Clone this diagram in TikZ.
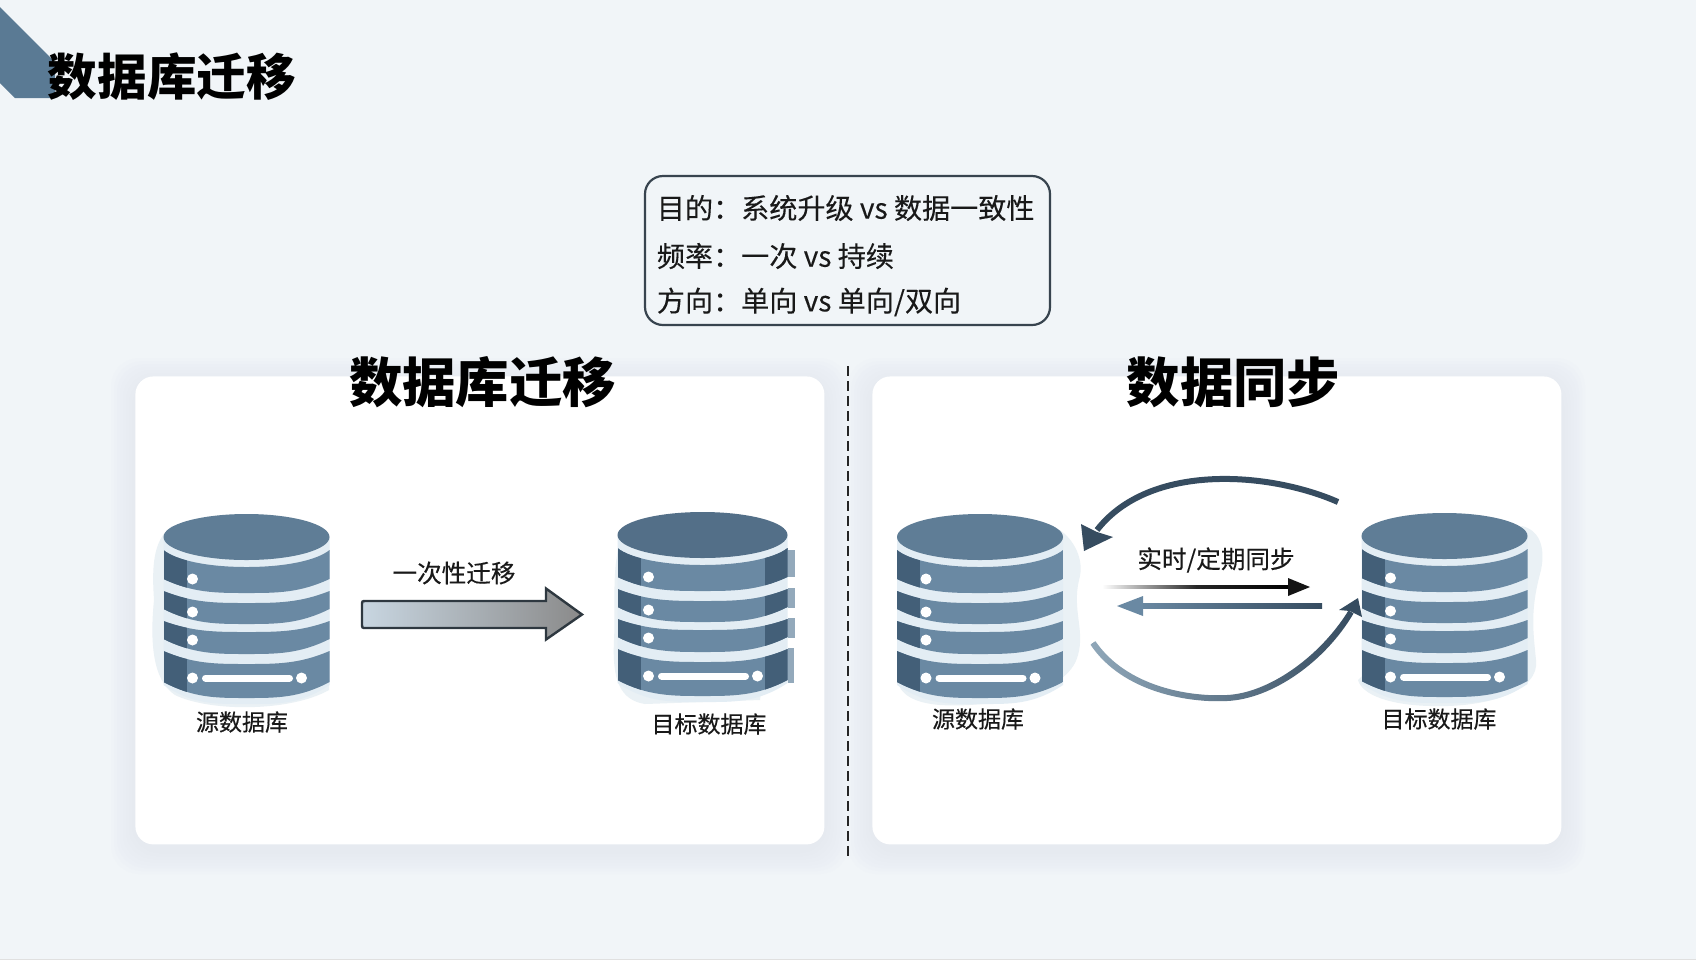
\documentclass[tikz,border=0pt]{standalone}
\usepackage{fontspec}
\setmainfont{Noto Sans CJK SC}
\newfontfamily\cjkmed[FakeBold=0.35]{Noto Sans CJK SC}
\newfontfamily\cjklite[FakeBold=0.15]{Noto Sans CJK SC}
\usetikzlibrary{calc,positioning}
\definecolor{pagebg}{HTML}{F1F5F8}
\definecolor{slate}{HTML}{5A7A94}
\definecolor{inkbox}{HTML}{38444F}
\definecolor{halo}{HTML}{D9DDEE}
\definecolor{dbtop}{HTML}{5F7D96}
\definecolor{dbtopdark}{HTML}{536F88}
\definecolor{dbbody}{HTML}{6A89A3}
\definecolor{dbdark}{HTML}{435F78}
\definecolor{dbrim}{HTML}{E3EDF4}
\definecolor{dbglow}{HTML}{EAF1F5}
\definecolor{dbside}{HTML}{93A9BB}
\definecolor{arcdark}{HTML}{364C60}
\definecolor{arclight}{HTML}{8FA7B9}
\definecolor{migedge}{HTML}{2E3840}
\definecolor{migleft}{HTML}{C8D6E1}
\definecolor{migmid}{HTML}{B2BDC7}
\definecolor{migright}{HTML}{8A8A8A}
\tikzset{
  x=0.5pt,y=-0.5pt,
  titletext/.style={inner sep=0,font=\fontsize{24.8}{24.8}\selectfont\bfseries,text=black},
  headtext/.style={inner sep=0,font=\fontsize{26.7}{26.7}\selectfont\bfseries,text=black},
  boxtext/.style={inner sep=0,anchor=west,font=\cjklite\fontsize{14.05}{14.05}\selectfont,text=black!90},
  labeltext/.style={inner sep=0,font=\cjkmed\fontsize{11.5}{11.5}\selectfont,text=black!90},
  flowtext/.style={inner sep=0,font=\cjkmed\fontsize{12.3}{12.3}\selectfont,text=black!90},
  infobox/.style={draw=inkbox,line width=1.1pt,rounded corners=9pt},
  panel/.style={fill=white,rounded corners=9pt},
  dbdot/.style={fill=white},
  divider/.style={draw=black!85,line width=0.9pt,dash pattern=on 5pt off 2.5pt},
}
% one drum layer, relative to the drum centre: top-edge path, bottom edge, bottom centre
\newcommand{\drumlayer}[4]{%
  \begin{scope}
    \path[clip] #1 -- (\rx,#2)
       .. controls (\rx-30,#3) and (30,#3) .. (0,#3)
       .. controls (-30,#3) and (-\rx+30,#3) .. (-\rx,#2) -- cycle;
    \fill[dbbody] (-\rx,-10) rectangle (\rx,200);
    \fill[dbdark] (-\rx,-10) rectangle (-\rx+23,200);
    #4
  \end{scope}}
\newcommand{\flattop}[2]{(-\rx,#1) .. controls (-\rx+30,#2) and (-30,#2) .. (0,#2)
       .. controls (30,#2) and (\rx-30,#2) .. (\rx,#1)}
% drum: name, cx, cy, half width, top colour, per-layer extra
\newcommand{\drum}[6]{%
  \begin{scope}[shift={(#2,#3)}]
    \def\rx{#4}
    \fill[dbrim] (-\rx,0) -- (-\rx,148) .. controls (-\rx+30,168) and (-30,167) .. (0,167)
       .. controls (30,167) and (\rx-30,168) .. (\rx,148) -- (\rx,0) -- cycle;
    \drumlayer{(-\rx,13) .. controls (-\rx+12,23) and (-40,30) .. (0,30) .. controls (40,30) and (\rx-12,23) .. (\rx,13)}{42}{56}{#6}
    \drumlayer{\flattop{54}{66}}{72}{87}{#6}
    \drumlayer{\flattop{84}{95}}{102}{117}{#6}
    \drumlayer{\flattop{114}{127}}{145}{161}{#6}
    \fill[#5] (0,0) ellipse [x radius=\rx, y radius=23];
    \fill[dbdot] (-54,42) circle (5.5);
    \fill[dbdot] (-54,75) circle (5.5);
    \fill[dbdot] (-54,103) circle (5.5);
    \fill[dbdot] (-54,141) circle (5.5);
    \fill[dbdot] (55,141) circle (5.5);
    \draw[white,line width=3.5pt,line cap=round] (-41,141) -- (43,141);
    \node[inner sep=0,minimum width=2*\rx,minimum height=46] (#1) at (0,0) {};
  \end{scope}}
\begin{document}
\begin{tikzpicture}
\useasboundingbox (0,0) rectangle (1696,960);
\fill[pagebg] (0,0) rectangle (1696,960);
\fill[black!12] (0,958.5) rectangle (1696,960);
% corner mark
\fill[slate] (0,7) -- (55,62) -- (55,98) -- (15,98) -- (0,83) -- cycle;
\node[titletext,anchor=west] (maintitle) at (47.5,77) {数据库迁移};
% summary box
\draw[infobox] (645,176) rectangle (1050,325);
\node[boxtext] (line1) at (656.5,208) {目的：系统升级 vs 数据一致性};
\node[boxtext] (line2) at (656.5,256) {频率：一次 vs 持续};
\node[boxtext] (line3) at (656.5,302) {方向：单向 vs 单向/双向};
% panel halos
\foreach \d in {24,21,18,15,12,9,6,3}{
  \fill[halo,opacity=0.055,rounded corners=14pt] (135-\d,376-\d+6) rectangle (824+\d,844+\d+6);
  \fill[halo,opacity=0.055,rounded corners=14pt] (872-\d,376-\d+6) rectangle (1561+\d,844+\d+6);
}
\node[panel,anchor=north west,minimum width=344.5pt,minimum height=234pt,inner sep=0] (leftpanel) at (135,376) {};
\node[panel,anchor=north west,minimum width=344.5pt,minimum height=234pt,inner sep=0] (rightpanel) at (872,376) {};
\coordinate (divtop) at (848,366);
\coordinate (divbot) at (848,856);
\draw[divider] (divtop) -- (divbot);
\node[headtext] (lefthead) at (482.5,382) {数据库迁移};
\node[headtext] (righthead) at (1233.5,382) {数据同步};
% glows behind the drums
\fill[dbglow] (172,526) .. controls (152,540) and (152,570) .. (154,600)
  .. controls (150,640) and (152,680) .. (175,695)
  .. controls (210,712) and (290,712) .. (329,690) -- (329,540) -- cycle;
\fill[dbglow] (625,530) .. controls (610,560) and (616,600) .. (614,640)
  .. controls (612,680) and (620,700) .. (645,704) -- (760,700) -- (780,540) -- cycle;
\fill[dbglow] (1060,530) .. controls (1074,540) and (1085,560) .. (1079,580)
  .. controls (1072,610) and (1085,630) .. (1078,655)
  .. controls (1068,695) and (990,708) .. (940,705)
  .. controls (915,703) and (900,695) .. (897,680) -- cycle;
\fill[dbglow] (1522,526) .. controls (1538,530) and (1546,545) .. (1541,570)
  .. controls (1530,610) and (1533,630) .. (1536,660)
  .. controls (1540,690) and (1490,708) .. (1430,706)
  .. controls (1390,705) and (1362,695) .. (1358,680) -- cycle;
% side strip of the target drum
\begin{scope}[shift={(702.5,535)}]
  \fill[dbside] (85,15) rectangle (92,42);
  \fill[dbside] (85,53) rectangle (92,73);
  \fill[dbside] (85,83) rectangle (92,103);
  \fill[dbside] (85,113) rectangle (91,148);
\end{scope}
\drum{dbA}{246.5}{537}{83}{dbtop}{}
\drum{dbB}{702.5}{535}{85}{dbtopdark}{\fill[dbdark] (62,-10) rectangle (85,200);}
\drum{dbC}{980}{537}{83}{dbtop}{}
\drum{dbD}{1444.5}{536}{83}{dbtop}{}
\node[labeltext] (labA) at (242,722) {源数据库};
\node[labeltext] (labB) at (709,724) {目标数据库};
\node[labeltext] (labC) at (978,719) {源数据库};
\node[labeltext] (labD) at (1439,719) {目标数据库};
% one-off migration arrow
\coordinate (migtail) at (362,614.5);
\coordinate (migtip) at (582,614.5);
\node[flowtext] (miglabel) at (454,573) {一次性迁移};
\shadedraw[draw=migedge,line width=1.2pt,left color=migleft,middle color=migmid,right color=migright]
  ($(migtail)+(4,-13.5)$) -- ($(migtip)+(-36,-13.5)$) -- ($(migtip)+(-36,-26)$) -- (migtip)
  -- ($(migtip)+(-36,25)$) -- ($(migtip)+(-36,13.5)$) -- ($(migtail)+(4,13.5)$)
  .. controls ($(migtail)+(0,13.5)$) and ($(migtail)+(0,13.5)$) .. ($(migtail)+(0,9)$)
  -- ($(migtail)+(0,-9)$) .. controls ($(migtail)+(0,-13.5)$) and ($(migtail)+(0,-13.5)$) .. cycle;
% sync arrows
\node[flowtext] (synclabel) at (1216,560) {实时/定期同步};
\coordinate (topstart) at (1338,502);
\coordinate (topend) at (1097,530);
\coordinate (toptip) at (1084,551);
\draw[arcdark,line width=3pt] (topstart) .. controls (1270,472) and (1150,462) .. (topend);
\fill[arcdark] (toptip) -- (1081,524) -- (1097,532) -- (1113,537) -- cycle;
\coordinate (fwdstart) at (1102,587);
\coordinate (fwdtip) at (1310,587);
\shade[left color=white,right color=black,middle color=black!85] ($(fwdstart)+(0,-1.3)$) rectangle ($(fwdtip)+(-20,1.3)$);
\fill[black!92] (fwdtip) -- ($(fwdtip)+(-22,-9)$) -- ($(fwdtip)+(-22,9)$) -- cycle;
\coordinate (backstart) at (1322,606);
\coordinate (backtip) at (1117,606);
\shade[left color=dbbody,right color=arcdark] ($(backtip)+(20,-2.8)$) rectangle ($(backstart)+(0,2.8)$);
\fill[dbbody] (backtip) -- ($(backtip)+(26,-10)$) -- ($(backtip)+(26,10)$) -- cycle;
\coordinate (botstart) at (1093,643);
\coordinate (botend) at (1351,612);
\coordinate (bottip) at (1358,598);
\draw[arclight!60!arcdark,line width=2.4pt] (botstart) .. controls (1125,690) and (1190,700) .. (1227,698)
   .. controls (1270,696) and (1322,660) .. (botend);
\shade[left color=arclight,middle color=arclight!85!arcdark,right color=arcdark]
  (1095.5,641.3) .. controls (1127,687) and (1190,697) .. (1227,695)
  .. controls (1268,693) and (1319,658) .. (1348.5,610.5)
  -- (1353.5,613.5) .. controls (1325,662) and (1272,699) .. (1227,701)
  .. controls (1190,703) and (1123,693) .. (1090.5,644.7) -- cycle;
\fill[arcdark] (bottip) -- (1339,610) -- (1350,611) -- (1362,617) -- cycle;
\end{tikzpicture}
\end{document}
